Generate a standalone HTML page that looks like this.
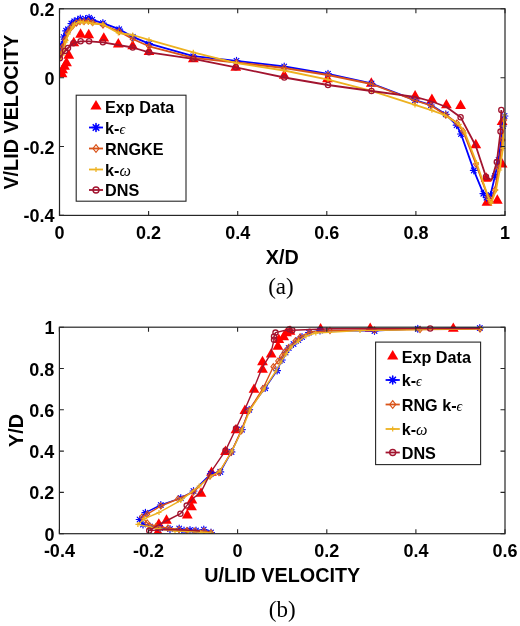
<!DOCTYPE html><html><head><meta charset="utf-8"><style>html,body{margin:0;padding:0;background:#fff;}svg{display:block;}.t{font-family:"Liberation Sans",Arial,sans-serif;font-weight:bold;fill:#000;}.c{font-family:"Liberation Serif","Times New Roman",serif;fill:#000;}</style></head><body>
<svg width="520" height="626" viewBox="0 0 520 626">
<rect width="520" height="626" fill="#fff"/>
<clipPath id="c8"><rect x="59.5" y="2.8000000000000007" width="451.5" height="212.6"/></clipPath>
<g clip-path="url(#c8)">
<path d="M62,67.8 L67.4,77.2 L56.6,77.2 Z" fill="#ff0000"/>
<path d="M62.5,63.8 L67.9,73.2 L57.1,73.2 Z" fill="#ff0000"/>
<path d="M64.5,60.3 L69.9,69.7 L59.1,69.7 Z" fill="#ff0000"/>
<path d="M66.5,56.8 L71.9,66.2 L61.1,66.2 Z" fill="#ff0000"/>
<path d="M68.8,49.3 L74.2,58.7 L63.4,58.7 Z" fill="#ff0000"/>
<path d="M73.8,36.8 L79.2,46.2 L68.4,46.2 Z" fill="#ff0000"/>
<path d="M80.6,28.3 L86,37.7 L75.2,37.7 Z" fill="#ff0000"/>
<path d="M88.7,28.8 L94.1,38.2 L83.3,38.2 Z" fill="#ff0000"/>
<path d="M103.8,32.2 L109.2,41.6 L98.4,41.6 Z" fill="#ff0000"/>
<path d="M118.3,38 L123.7,47.4 L112.9,47.4 Z" fill="#ff0000"/>
<path d="M132.7,39.9 L138.1,49.3 L127.3,49.3 Z" fill="#ff0000"/>
<path d="M149,45.7 L154.4,55.1 L143.6,55.1 Z" fill="#ff0000"/>
<path d="M193.3,52.8 L198.7,62.2 L187.9,62.2 Z" fill="#ff0000"/>
<path d="M235.8,61.3 L241.2,70.7 L230.4,70.7 Z" fill="#ff0000"/>
<path d="M284.2,69.3 L289.6,78.7 L278.8,78.7 Z" fill="#ff0000"/>
<path d="M327.5,72.8 L332.9,82.2 L322.1,82.2 Z" fill="#ff0000"/>
<path d="M371.3,77.3 L376.7,86.7 L365.9,86.7 Z" fill="#ff0000"/>
<path d="M415.1,90.1 L420.5,99.5 L409.7,99.5 Z" fill="#ff0000"/>
<path d="M431.9,93.5 L437.3,102.9 L426.5,102.9 Z" fill="#ff0000"/>
<path d="M446.4,98.9 L451.8,108.3 L441,108.3 Z" fill="#ff0000"/>
<path d="M460.6,99.5 L466,108.9 L455.2,108.9 Z" fill="#ff0000"/>
<path d="M475.8,138.8 L481.2,148.2 L470.4,148.2 Z" fill="#ff0000"/>
<path d="M486.2,172.3 L491.6,181.7 L480.8,181.7 Z" fill="#ff0000"/>
<path d="M487,196.3 L492.4,205.7 L481.6,205.7 Z" fill="#ff0000"/>
<path d="M497.3,194.3 L502.7,203.7 L491.9,203.7 Z" fill="#ff0000"/>
<path d="M502.1,115.7 L507.5,125.1 L496.7,125.1 Z" fill="#ff0000"/>
<path d="M502.1,158 L507.5,167.4 L496.7,167.4 Z" fill="#ff0000"/>
<polyline points="58.9,52.8 61.3,45 63.7,37 66.1,30.8 68,29.4 71.4,23.6 74.3,21.2 77.6,20.3 80.3,18.6 85.6,19 89.1,17.8 92.2,19.8 102.9,23.1 119.2,29.2 132.7,36.9 149,43.7 193.3,56.2 236.5,60.8 284.2,66.5 328,73.8 371.5,83.5 415,100.2 431,105 445.8,114.3 456.6,125.2 461,134 473.8,170.4 483.4,193.6 486.6,197.6 490.5,195 495,176 498.6,160 502.9,126 504.5,116" fill="none" stroke="#0000ff" stroke-width="1.8" stroke-linejoin="round"/>
<path d="M55.5,52.8 H62.3 M58.9,49.4 V56.2 M56.5,50.4 L61.3,55.2 M56.5,55.2 L61.3,50.4" stroke="#0000ff" stroke-width="1.2" stroke-linecap="round"/>
<path d="M57.9,45 H64.7 M61.3,41.6 V48.4 M58.9,42.6 L63.7,47.4 M58.9,47.4 L63.7,42.6" stroke="#0000ff" stroke-width="1.2" stroke-linecap="round"/>
<path d="M60.3,37 H67.1 M63.7,33.6 V40.4 M61.3,34.6 L66.1,39.4 M61.3,39.4 L66.1,34.6" stroke="#0000ff" stroke-width="1.2" stroke-linecap="round"/>
<path d="M62.7,30.8 H69.5 M66.1,27.4 V34.2 M63.7,28.4 L68.5,33.2 M63.7,33.2 L68.5,28.4" stroke="#0000ff" stroke-width="1.2" stroke-linecap="round"/>
<path d="M64.6,29.4 H71.4 M68,26 V32.8 M65.6,27 L70.4,31.8 M65.6,31.8 L70.4,27" stroke="#0000ff" stroke-width="1.2" stroke-linecap="round"/>
<path d="M68,23.6 H74.8 M71.4,20.2 V27 M69,21.2 L73.8,26 M69,26 L73.8,21.2" stroke="#0000ff" stroke-width="1.2" stroke-linecap="round"/>
<path d="M70.9,21.2 H77.7 M74.3,17.8 V24.6 M71.9,18.8 L76.7,23.6 M71.9,23.6 L76.7,18.8" stroke="#0000ff" stroke-width="1.2" stroke-linecap="round"/>
<path d="M74.2,20.3 H81 M77.6,16.9 V23.7 M75.2,17.9 L80,22.7 M75.2,22.7 L80,17.9" stroke="#0000ff" stroke-width="1.2" stroke-linecap="round"/>
<path d="M76.9,18.6 H83.7 M80.3,15.2 V22 M77.9,16.2 L82.7,21 M77.9,21 L82.7,16.2" stroke="#0000ff" stroke-width="1.2" stroke-linecap="round"/>
<path d="M82.2,19 H89 M85.6,15.6 V22.4 M83.2,16.6 L88,21.4 M83.2,21.4 L88,16.6" stroke="#0000ff" stroke-width="1.2" stroke-linecap="round"/>
<path d="M85.7,17.8 H92.5 M89.1,14.4 V21.2 M86.7,15.4 L91.5,20.2 M86.7,20.2 L91.5,15.4" stroke="#0000ff" stroke-width="1.2" stroke-linecap="round"/>
<path d="M88.8,19.8 H95.6 M92.2,16.4 V23.2 M89.8,17.4 L94.6,22.2 M89.8,22.2 L94.6,17.4" stroke="#0000ff" stroke-width="1.2" stroke-linecap="round"/>
<path d="M99.5,23.1 H106.3 M102.9,19.7 V26.5 M100.5,20.7 L105.3,25.5 M100.5,25.5 L105.3,20.7" stroke="#0000ff" stroke-width="1.2" stroke-linecap="round"/>
<path d="M115.8,29.2 H122.6 M119.2,25.8 V32.6 M116.8,26.8 L121.6,31.6 M116.8,31.6 L121.6,26.8" stroke="#0000ff" stroke-width="1.2" stroke-linecap="round"/>
<path d="M129.3,36.9 H136.1 M132.7,33.5 V40.3 M130.3,34.5 L135.1,39.3 M130.3,39.3 L135.1,34.5" stroke="#0000ff" stroke-width="1.2" stroke-linecap="round"/>
<path d="M145.6,43.7 H152.4 M149,40.3 V47.1 M146.6,41.3 L151.4,46.1 M146.6,46.1 L151.4,41.3" stroke="#0000ff" stroke-width="1.2" stroke-linecap="round"/>
<path d="M189.9,56.2 H196.7 M193.3,52.8 V59.6 M190.9,53.8 L195.7,58.6 M190.9,58.6 L195.7,53.8" stroke="#0000ff" stroke-width="1.2" stroke-linecap="round"/>
<path d="M233.1,60.8 H239.9 M236.5,57.4 V64.2 M234.1,58.4 L238.9,63.2 M234.1,63.2 L238.9,58.4" stroke="#0000ff" stroke-width="1.2" stroke-linecap="round"/>
<path d="M280.8,66.5 H287.6 M284.2,63.1 V69.9 M281.8,64.1 L286.6,68.9 M281.8,68.9 L286.6,64.1" stroke="#0000ff" stroke-width="1.2" stroke-linecap="round"/>
<path d="M324.6,73.8 H331.4 M328,70.4 V77.2 M325.6,71.4 L330.4,76.2 M325.6,76.2 L330.4,71.4" stroke="#0000ff" stroke-width="1.2" stroke-linecap="round"/>
<path d="M368.1,83.5 H374.9 M371.5,80.1 V86.9 M369.1,81.1 L373.9,85.9 M369.1,85.9 L373.9,81.1" stroke="#0000ff" stroke-width="1.2" stroke-linecap="round"/>
<path d="M411.6,100.2 H418.4 M415,96.8 V103.6 M412.6,97.8 L417.4,102.6 M412.6,102.6 L417.4,97.8" stroke="#0000ff" stroke-width="1.2" stroke-linecap="round"/>
<path d="M427.6,105 H434.4 M431,101.6 V108.4 M428.6,102.6 L433.4,107.4 M428.6,107.4 L433.4,102.6" stroke="#0000ff" stroke-width="1.2" stroke-linecap="round"/>
<path d="M442.4,114.3 H449.2 M445.8,110.9 V117.7 M443.4,111.9 L448.2,116.7 M443.4,116.7 L448.2,111.9" stroke="#0000ff" stroke-width="1.2" stroke-linecap="round"/>
<path d="M453.2,125.2 H460 M456.6,121.8 V128.6 M454.2,122.8 L459,127.6 M454.2,127.6 L459,122.8" stroke="#0000ff" stroke-width="1.2" stroke-linecap="round"/>
<path d="M457.6,134 H464.4 M461,130.6 V137.4 M458.6,131.6 L463.4,136.4 M458.6,136.4 L463.4,131.6" stroke="#0000ff" stroke-width="1.2" stroke-linecap="round"/>
<path d="M470.4,170.4 H477.2 M473.8,167 V173.8 M471.4,168 L476.2,172.8 M471.4,172.8 L476.2,168" stroke="#0000ff" stroke-width="1.2" stroke-linecap="round"/>
<path d="M480,193.6 H486.8 M483.4,190.2 V197 M481,191.2 L485.8,196 M481,196 L485.8,191.2" stroke="#0000ff" stroke-width="1.2" stroke-linecap="round"/>
<path d="M483.2,197.6 H490 M486.6,194.2 V201 M484.2,195.2 L489,200 M484.2,200 L489,195.2" stroke="#0000ff" stroke-width="1.2" stroke-linecap="round"/>
<path d="M487.1,195 H493.9 M490.5,191.6 V198.4 M488.1,192.6 L492.9,197.4 M488.1,197.4 L492.9,192.6" stroke="#0000ff" stroke-width="1.2" stroke-linecap="round"/>
<path d="M491.6,176 H498.4 M495,172.6 V179.4 M492.6,173.6 L497.4,178.4 M492.6,178.4 L497.4,173.6" stroke="#0000ff" stroke-width="1.2" stroke-linecap="round"/>
<path d="M495.2,160 H502 M498.6,156.6 V163.4 M496.2,157.6 L501,162.4 M496.2,162.4 L501,157.6" stroke="#0000ff" stroke-width="1.2" stroke-linecap="round"/>
<path d="M499.5,126 H506.3 M502.9,122.6 V129.4 M500.5,123.6 L505.3,128.4 M500.5,128.4 L505.3,123.6" stroke="#0000ff" stroke-width="1.2" stroke-linecap="round"/>
<path d="M501.1,116 H507.9 M504.5,112.6 V119.4 M502.1,113.6 L506.9,118.4 M502.1,118.4 L506.9,113.6" stroke="#0000ff" stroke-width="1.2" stroke-linecap="round"/>
<polyline points="60,55 62.5,47 65,39.5 67.5,33 70,29 73,25.5 76.5,23 80,21.5 84,21.5 88.5,21 92.5,22.5 103,25 119.2,31.5 132.7,39 149,46.3 193.3,57.8 236.5,62.5 284.2,68 328,75 371.5,84 415,100.5 431,105.5 445.8,115 457,123 463,131 476,164 488,197 490.6,202 495,190 498.6,168 502.5,140 504.2,120" fill="none" stroke="#d95319" stroke-width="1.8" stroke-linejoin="round"/>
<path d="M60,52 L62.4,55 L60,58 L57.6,55 Z" fill="none" stroke="#d95319" stroke-width="1.1"/>
<path d="M62.5,44 L64.9,47 L62.5,50 L60.1,47 Z" fill="none" stroke="#d95319" stroke-width="1.1"/>
<path d="M65,36.5 L67.4,39.5 L65,42.5 L62.6,39.5 Z" fill="none" stroke="#d95319" stroke-width="1.1"/>
<path d="M67.5,30 L69.9,33 L67.5,36 L65.1,33 Z" fill="none" stroke="#d95319" stroke-width="1.1"/>
<path d="M70,26 L72.4,29 L70,32 L67.6,29 Z" fill="none" stroke="#d95319" stroke-width="1.1"/>
<path d="M73,22.5 L75.4,25.5 L73,28.5 L70.6,25.5 Z" fill="none" stroke="#d95319" stroke-width="1.1"/>
<path d="M76.5,20 L78.9,23 L76.5,26 L74.1,23 Z" fill="none" stroke="#d95319" stroke-width="1.1"/>
<path d="M80,18.5 L82.4,21.5 L80,24.5 L77.6,21.5 Z" fill="none" stroke="#d95319" stroke-width="1.1"/>
<path d="M84,18.5 L86.4,21.5 L84,24.5 L81.6,21.5 Z" fill="none" stroke="#d95319" stroke-width="1.1"/>
<path d="M88.5,18 L90.9,21 L88.5,24 L86.1,21 Z" fill="none" stroke="#d95319" stroke-width="1.1"/>
<path d="M92.5,19.5 L94.9,22.5 L92.5,25.5 L90.1,22.5 Z" fill="none" stroke="#d95319" stroke-width="1.1"/>
<path d="M103,22 L105.4,25 L103,28 L100.6,25 Z" fill="none" stroke="#d95319" stroke-width="1.1"/>
<path d="M119.2,28.5 L121.6,31.5 L119.2,34.5 L116.8,31.5 Z" fill="none" stroke="#d95319" stroke-width="1.1"/>
<path d="M132.7,36 L135.1,39 L132.7,42 L130.3,39 Z" fill="none" stroke="#d95319" stroke-width="1.1"/>
<path d="M149,43.3 L151.4,46.3 L149,49.3 L146.6,46.3 Z" fill="none" stroke="#d95319" stroke-width="1.1"/>
<path d="M193.3,54.8 L195.7,57.8 L193.3,60.8 L190.9,57.8 Z" fill="none" stroke="#d95319" stroke-width="1.1"/>
<path d="M236.5,59.5 L238.9,62.5 L236.5,65.5 L234.1,62.5 Z" fill="none" stroke="#d95319" stroke-width="1.1"/>
<path d="M284.2,65 L286.6,68 L284.2,71 L281.8,68 Z" fill="none" stroke="#d95319" stroke-width="1.1"/>
<path d="M328,72 L330.4,75 L328,78 L325.6,75 Z" fill="none" stroke="#d95319" stroke-width="1.1"/>
<path d="M371.5,81 L373.9,84 L371.5,87 L369.1,84 Z" fill="none" stroke="#d95319" stroke-width="1.1"/>
<path d="M415,97.5 L417.4,100.5 L415,103.5 L412.6,100.5 Z" fill="none" stroke="#d95319" stroke-width="1.1"/>
<path d="M431,102.5 L433.4,105.5 L431,108.5 L428.6,105.5 Z" fill="none" stroke="#d95319" stroke-width="1.1"/>
<path d="M445.8,112 L448.2,115 L445.8,118 L443.4,115 Z" fill="none" stroke="#d95319" stroke-width="1.1"/>
<path d="M457,120 L459.4,123 L457,126 L454.6,123 Z" fill="none" stroke="#d95319" stroke-width="1.1"/>
<path d="M463,128 L465.4,131 L463,134 L460.6,131 Z" fill="none" stroke="#d95319" stroke-width="1.1"/>
<path d="M476,161 L478.4,164 L476,167 L473.6,164 Z" fill="none" stroke="#d95319" stroke-width="1.1"/>
<path d="M488,194 L490.4,197 L488,200 L485.6,197 Z" fill="none" stroke="#d95319" stroke-width="1.1"/>
<path d="M490.6,199 L493,202 L490.6,205 L488.2,202 Z" fill="none" stroke="#d95319" stroke-width="1.1"/>
<path d="M495,187 L497.4,190 L495,193 L492.6,190 Z" fill="none" stroke="#d95319" stroke-width="1.1"/>
<path d="M498.6,165 L501,168 L498.6,171 L496.2,168 Z" fill="none" stroke="#d95319" stroke-width="1.1"/>
<path d="M502.5,137 L504.9,140 L502.5,143 L500.1,140 Z" fill="none" stroke="#d95319" stroke-width="1.1"/>
<path d="M504.2,117 L506.6,120 L504.2,123 L501.8,120 Z" fill="none" stroke="#d95319" stroke-width="1.1"/>
<polyline points="60.5,58 62.2,55.2 63.2,52 65.6,42 66.1,40.3 68.3,34 72.5,27 74.5,24 80.2,21.7 83.3,22.5 88.3,22.5 92.9,23.6 102.9,24.4 118.3,33 132.7,35 149,39.8 193.3,52.3 236.5,63.1 284.2,70.5 328,79.6 371.5,90.9 415,104.9 431.9,110.3 444.4,115 459.2,124.4 465,133 476.5,162.7 489,199.5 491.2,203.2 496,190 499.7,170 502.9,148.3 503.7,126 504.5,115" fill="none" stroke="#edb120" stroke-width="1.8" stroke-linejoin="round"/>
<path d="M58,58 H63 M60.5,55.5 V60.5" stroke="#edb120" stroke-width="1.2"/>
<path d="M59.7,55.2 H64.7 M62.2,52.7 V57.7" stroke="#edb120" stroke-width="1.2"/>
<path d="M60.7,52 H65.7 M63.2,49.5 V54.5" stroke="#edb120" stroke-width="1.2"/>
<path d="M63.1,42 H68.1 M65.6,39.5 V44.5" stroke="#edb120" stroke-width="1.2"/>
<path d="M63.6,40.3 H68.6 M66.1,37.8 V42.8" stroke="#edb120" stroke-width="1.2"/>
<path d="M65.8,34 H70.8 M68.3,31.5 V36.5" stroke="#edb120" stroke-width="1.2"/>
<path d="M70,27 H75 M72.5,24.5 V29.5" stroke="#edb120" stroke-width="1.2"/>
<path d="M72,24 H77 M74.5,21.5 V26.5" stroke="#edb120" stroke-width="1.2"/>
<path d="M77.7,21.7 H82.7 M80.2,19.2 V24.2" stroke="#edb120" stroke-width="1.2"/>
<path d="M80.8,22.5 H85.8 M83.3,20 V25" stroke="#edb120" stroke-width="1.2"/>
<path d="M85.8,22.5 H90.8 M88.3,20 V25" stroke="#edb120" stroke-width="1.2"/>
<path d="M90.4,23.6 H95.4 M92.9,21.1 V26.1" stroke="#edb120" stroke-width="1.2"/>
<path d="M100.4,24.4 H105.4 M102.9,21.9 V26.9" stroke="#edb120" stroke-width="1.2"/>
<path d="M115.8,33 H120.8 M118.3,30.5 V35.5" stroke="#edb120" stroke-width="1.2"/>
<path d="M130.2,35 H135.2 M132.7,32.5 V37.5" stroke="#edb120" stroke-width="1.2"/>
<path d="M146.5,39.8 H151.5 M149,37.3 V42.3" stroke="#edb120" stroke-width="1.2"/>
<path d="M190.8,52.3 H195.8 M193.3,49.8 V54.8" stroke="#edb120" stroke-width="1.2"/>
<path d="M234,63.1 H239 M236.5,60.6 V65.6" stroke="#edb120" stroke-width="1.2"/>
<path d="M281.7,70.5 H286.7 M284.2,68 V73" stroke="#edb120" stroke-width="1.2"/>
<path d="M325.5,79.6 H330.5 M328,77.1 V82.1" stroke="#edb120" stroke-width="1.2"/>
<path d="M369,90.9 H374 M371.5,88.4 V93.4" stroke="#edb120" stroke-width="1.2"/>
<path d="M412.5,104.9 H417.5 M415,102.4 V107.4" stroke="#edb120" stroke-width="1.2"/>
<path d="M429.4,110.3 H434.4 M431.9,107.8 V112.8" stroke="#edb120" stroke-width="1.2"/>
<path d="M441.9,115 H446.9 M444.4,112.5 V117.5" stroke="#edb120" stroke-width="1.2"/>
<path d="M456.7,124.4 H461.7 M459.2,121.9 V126.9" stroke="#edb120" stroke-width="1.2"/>
<path d="M462.5,133 H467.5 M465,130.5 V135.5" stroke="#edb120" stroke-width="1.2"/>
<path d="M474,162.7 H479 M476.5,160.2 V165.2" stroke="#edb120" stroke-width="1.2"/>
<path d="M486.5,199.5 H491.5 M489,197 V202" stroke="#edb120" stroke-width="1.2"/>
<path d="M488.7,203.2 H493.7 M491.2,200.7 V205.7" stroke="#edb120" stroke-width="1.2"/>
<path d="M493.5,190 H498.5 M496,187.5 V192.5" stroke="#edb120" stroke-width="1.2"/>
<path d="M497.2,170 H502.2 M499.7,167.5 V172.5" stroke="#edb120" stroke-width="1.2"/>
<path d="M500.4,148.3 H505.4 M502.9,145.8 V150.8" stroke="#edb120" stroke-width="1.2"/>
<path d="M501.2,126 H506.2 M503.7,123.5 V128.5" stroke="#edb120" stroke-width="1.2"/>
<path d="M502,115 H507 M504.5,112.5 V117.5" stroke="#edb120" stroke-width="1.2"/>
<polyline points="59.8,58.2 62,55 65,51 68,48 73.4,43.2 80.6,41.3 89.1,41.3 102.9,42.3 132.7,47.5 149,52.3 193.3,58.8 235.8,67.3 284.3,77.5 328,85 371.5,91 415,96.8 431.9,101.5 446.4,107 460.6,117.2 475.8,146 486,176.8 491.6,180 496.8,162 500.5,131.6 501.3,110" fill="none" stroke="#a2142f" stroke-width="1.8" stroke-linejoin="round"/>
<circle cx="59.8" cy="58.2" r="2.6" fill="none" stroke="#a2142f" stroke-width="1.3"/>
<circle cx="65" cy="51" r="2.6" fill="none" stroke="#a2142f" stroke-width="1.3"/>
<circle cx="68" cy="48" r="2.6" fill="none" stroke="#a2142f" stroke-width="1.3"/>
<circle cx="73.4" cy="43.2" r="2.6" fill="none" stroke="#a2142f" stroke-width="1.3"/>
<circle cx="80.6" cy="41.3" r="2.6" fill="none" stroke="#a2142f" stroke-width="1.3"/>
<circle cx="89.1" cy="41.3" r="2.6" fill="none" stroke="#a2142f" stroke-width="1.3"/>
<circle cx="102.9" cy="42.3" r="2.6" fill="none" stroke="#a2142f" stroke-width="1.3"/>
<circle cx="132.7" cy="47.5" r="2.6" fill="none" stroke="#a2142f" stroke-width="1.3"/>
<circle cx="149" cy="52.3" r="2.6" fill="none" stroke="#a2142f" stroke-width="1.3"/>
<circle cx="193.3" cy="58.8" r="2.6" fill="none" stroke="#a2142f" stroke-width="1.3"/>
<circle cx="235.8" cy="67.3" r="2.6" fill="none" stroke="#a2142f" stroke-width="1.3"/>
<circle cx="284.3" cy="77.5" r="2.6" fill="none" stroke="#a2142f" stroke-width="1.3"/>
<circle cx="328" cy="85" r="2.6" fill="none" stroke="#a2142f" stroke-width="1.3"/>
<circle cx="371.5" cy="91" r="2.6" fill="none" stroke="#a2142f" stroke-width="1.3"/>
<circle cx="460.6" cy="117.2" r="2.6" fill="none" stroke="#a2142f" stroke-width="1.3"/>
<circle cx="486" cy="176.8" r="2.6" fill="none" stroke="#a2142f" stroke-width="1.3"/>
<circle cx="496.8" cy="162" r="2.6" fill="none" stroke="#a2142f" stroke-width="1.3"/>
<circle cx="500.5" cy="131.6" r="2.6" fill="none" stroke="#a2142f" stroke-width="1.3"/>
<circle cx="501.3" cy="110" r="2.6" fill="none" stroke="#a2142f" stroke-width="1.3"/>
</g>
<rect x="59.5" y="8.8" width="445.5" height="206.6" fill="none" stroke="#262626" stroke-width="1.2"/>
<path d="M59.5,215.4 v-4.5 M59.5,8.8 v4.5" stroke="#262626" stroke-width="1.1"/>
<path d="M148.6,215.4 v-4.5 M148.6,8.8 v4.5" stroke="#262626" stroke-width="1.1"/>
<path d="M237.7,215.4 v-4.5 M237.7,8.8 v4.5" stroke="#262626" stroke-width="1.1"/>
<path d="M326.8,215.4 v-4.5 M326.8,8.8 v4.5" stroke="#262626" stroke-width="1.1"/>
<path d="M415.9,215.4 v-4.5 M415.9,8.8 v4.5" stroke="#262626" stroke-width="1.1"/>
<path d="M505,215.4 v-4.5 M505,8.8 v4.5" stroke="#262626" stroke-width="1.1"/>
<path d="M59.5,8.8 h4.5 M505,8.8 h-4.5" stroke="#262626" stroke-width="1.1"/>
<path d="M59.5,77.7 h4.5 M505,77.7 h-4.5" stroke="#262626" stroke-width="1.1"/>
<path d="M59.5,146.5 h4.5 M505,146.5 h-4.5" stroke="#262626" stroke-width="1.1"/>
<path d="M59.5,215.4 h4.5 M505,215.4 h-4.5" stroke="#262626" stroke-width="1.1"/>
<text class="t" x="59.5" y="238.8" font-size="18" text-anchor="middle">0</text>
<text class="t" x="148.6" y="238.8" font-size="18" text-anchor="middle">0.2</text>
<text class="t" x="237.7" y="238.8" font-size="18" text-anchor="middle">0.4</text>
<text class="t" x="326.8" y="238.8" font-size="18" text-anchor="middle">0.6</text>
<text class="t" x="415.9" y="238.8" font-size="18" text-anchor="middle">0.8</text>
<text class="t" x="505" y="238.8" font-size="18" text-anchor="middle">1</text>
<text class="t" x="54.5" y="15.8" font-size="18" text-anchor="end">0.2</text>
<text class="t" x="54.5" y="84.7" font-size="18" text-anchor="end">0</text>
<text class="t" x="54.5" y="153.5" font-size="18" text-anchor="end">-0.2</text>
<text class="t" x="54.5" y="222.4" font-size="18" text-anchor="end">-0.4</text>
<text class="t" x="282.2" y="263.5" font-size="19.8" text-anchor="middle">X/D</text>
<text class="t" transform="translate(17.5,112.1) rotate(-90)" x="0" y="0" font-size="19.8" text-anchor="middle">V/LID VELOCITY</text>
<rect x="76.2" y="95.2" width="109.8" height="106" fill="#fff" stroke="#262626" stroke-width="1.1"/><path d="M96,100 L101.6,109.6 L90.4,109.6 Z" fill="#ff0000"/><text class="t" x="105" y="112.7" font-size="16.2">Exp Data</text><polyline points="89,127.5 103,127.5" fill="none" stroke="#0000ff" stroke-width="1.8" stroke-linejoin="round"/><path d="M92,127.5 H100 M96,123.5 V131.5 M93.2,124.7 L98.8,130.3 M93.2,130.3 L98.8,124.7" stroke="#0000ff" stroke-width="1.6" stroke-linecap="round"/><text class="t" x="105" y="133.7" font-size="16.2">k-<tspan font-family="Liberation Serif,serif" font-weight="normal" font-style="italic" font-size="88%">&#1013;</tspan></text><polyline points="89,148.5 103,148.5" fill="none" stroke="#d95319" stroke-width="1.8" stroke-linejoin="round"/><path d="M96,144.7 L99,148.5 L96,152.3 L93,148.5 Z" fill="none" stroke="#d95319" stroke-width="1.2"/><text class="t" x="105" y="154.7" font-size="16.2">RNGKE</text><polyline points="89,169.5 103,169.5" fill="none" stroke="#edb120" stroke-width="1.8" stroke-linejoin="round"/><path d="M93.5,169.5 H98.5 M96,167 V172" stroke="#edb120" stroke-width="1.2"/><text class="t" x="105" y="175.7" font-size="16.2">k-<tspan font-family="Liberation Serif,serif" font-weight="normal" font-style="italic">&#969;</tspan></text><polyline points="89,190 103,190" fill="none" stroke="#a2142f" stroke-width="1.8" stroke-linejoin="round"/><circle cx="96" cy="190" r="3" fill="none" stroke="#a2142f" stroke-width="1.4"/><text class="t" x="105" y="196.2" font-size="16.2">DNS</text>
<text class="c" x="280.9" y="293.8" font-size="23" text-anchor="middle">(a)</text>
<clipPath id="c327"><rect x="59.4" y="321.2" width="451.6" height="212.50000000000006"/></clipPath>
<g clip-path="url(#c327)">
<path d="M157.9,525.9 L163.3,535.3 L152.5,535.3 Z" fill="#ff0000"/>
<path d="M158.8,518.2 L164.2,527.6 L153.4,527.6 Z" fill="#ff0000"/>
<path d="M166.5,514.3 L171.9,523.7 L161.1,523.7 Z" fill="#ff0000"/>
<path d="M187.3,509 L192.7,518.4 L181.9,518.4 Z" fill="#ff0000"/>
<path d="M191.5,500.9 L196.9,510.3 L186.1,510.3 Z" fill="#ff0000"/>
<path d="M191.9,494.1 L197.3,503.5 L186.5,503.5 Z" fill="#ff0000"/>
<path d="M201,487.3 L206.4,496.7 L195.6,496.7 Z" fill="#ff0000"/>
<path d="M211.5,466.4 L216.9,475.8 L206.1,475.8 Z" fill="#ff0000"/>
<path d="M225.5,445.6 L230.9,455 L220.1,455 Z" fill="#ff0000"/>
<path d="M236,423.8 L241.4,433.2 L230.6,433.2 Z" fill="#ff0000"/>
<path d="M244.9,404.5 L250.3,413.9 L239.5,413.9 Z" fill="#ff0000"/>
<path d="M254,383.4 L259.4,392.8 L248.6,392.8 Z" fill="#ff0000"/>
<path d="M262.5,363.3 L267.9,372.7 L257.1,372.7 Z" fill="#ff0000"/>
<path d="M262.5,355.8 L267.9,365.2 L257.1,365.2 Z" fill="#ff0000"/>
<path d="M271.2,348.1 L276.6,357.5 L265.8,357.5 Z" fill="#ff0000"/>
<path d="M277.9,340.3 L283.3,349.7 L272.5,349.7 Z" fill="#ff0000"/>
<path d="M278.8,333.6 L284.2,343 L273.4,343 Z" fill="#ff0000"/>
<path d="M283.7,330.8 L289.1,340.2 L278.3,340.2 Z" fill="#ff0000"/>
<path d="M286.5,326.9 L291.9,336.3 L281.1,336.3 Z" fill="#ff0000"/>
<path d="M290,325.3 L295.4,334.7 L284.6,334.7 Z" fill="#ff0000"/>
<path d="M320.6,323 L326,332.4 L315.2,332.4 Z" fill="#ff0000"/>
<path d="M370.2,322.4 L375.6,331.8 L364.8,331.8 Z" fill="#ff0000"/>
<path d="M453.3,322.4 L458.7,331.8 L447.9,331.8 Z" fill="#ff0000"/>
<polyline points="211,532.5 203.8,529.5 196,530.5 190,530 184,530.5 179.2,528.5 170,529 160,528 150,526.5 143,524.5 139.6,519.5 145.4,512.7 160.8,505 180.8,498.1 193.5,491 210.8,473.8 220.3,471.9 231.5,451.9 241.9,429.6 249.2,409.7 265.1,388.1 277.1,370.6 281.9,360 285.5,352.5 288.7,348 293.5,344 298.3,340 302,336.9 309,332.5 320,330.5 374.5,330.9 417.8,328.8 479.8,328" fill="none" stroke="#0000ff" stroke-width="1.4" stroke-linejoin="round"/>
<path d="M207.6,532.5 H214.4 M211,529.1 V535.9 M208.6,530.1 L213.4,534.9 M208.6,534.9 L213.4,530.1" stroke="#0000ff" stroke-width="1.2" stroke-linecap="round"/>
<path d="M200.4,529.5 H207.2 M203.8,526.1 V532.9 M201.4,527.1 L206.2,531.9 M201.4,531.9 L206.2,527.1" stroke="#0000ff" stroke-width="1.2" stroke-linecap="round"/>
<path d="M192.6,530.5 H199.4 M196,527.1 V533.9 M193.6,528.1 L198.4,532.9 M193.6,532.9 L198.4,528.1" stroke="#0000ff" stroke-width="1.2" stroke-linecap="round"/>
<path d="M186.6,530 H193.4 M190,526.6 V533.4 M187.6,527.6 L192.4,532.4 M187.6,532.4 L192.4,527.6" stroke="#0000ff" stroke-width="1.2" stroke-linecap="round"/>
<path d="M180.6,530.5 H187.4 M184,527.1 V533.9 M181.6,528.1 L186.4,532.9 M181.6,532.9 L186.4,528.1" stroke="#0000ff" stroke-width="1.2" stroke-linecap="round"/>
<path d="M175.8,528.5 H182.6 M179.2,525.1 V531.9 M176.8,526.1 L181.6,530.9 M176.8,530.9 L181.6,526.1" stroke="#0000ff" stroke-width="1.2" stroke-linecap="round"/>
<path d="M166.6,529 H173.4 M170,525.6 V532.4 M167.6,526.6 L172.4,531.4 M167.6,531.4 L172.4,526.6" stroke="#0000ff" stroke-width="1.2" stroke-linecap="round"/>
<path d="M156.6,528 H163.4 M160,524.6 V531.4 M157.6,525.6 L162.4,530.4 M157.6,530.4 L162.4,525.6" stroke="#0000ff" stroke-width="1.2" stroke-linecap="round"/>
<path d="M146.6,526.5 H153.4 M150,523.1 V529.9 M147.6,524.1 L152.4,528.9 M147.6,528.9 L152.4,524.1" stroke="#0000ff" stroke-width="1.2" stroke-linecap="round"/>
<path d="M139.6,524.5 H146.4 M143,521.1 V527.9 M140.6,522.1 L145.4,526.9 M140.6,526.9 L145.4,522.1" stroke="#0000ff" stroke-width="1.2" stroke-linecap="round"/>
<path d="M136.2,519.5 H143 M139.6,516.1 V522.9 M137.2,517.1 L142,521.9 M137.2,521.9 L142,517.1" stroke="#0000ff" stroke-width="1.2" stroke-linecap="round"/>
<path d="M142,512.7 H148.8 M145.4,509.3 V516.1 M143,510.3 L147.8,515.1 M143,515.1 L147.8,510.3" stroke="#0000ff" stroke-width="1.2" stroke-linecap="round"/>
<path d="M157.4,505 H164.2 M160.8,501.6 V508.4 M158.4,502.6 L163.2,507.4 M158.4,507.4 L163.2,502.6" stroke="#0000ff" stroke-width="1.2" stroke-linecap="round"/>
<path d="M177.4,498.1 H184.2 M180.8,494.7 V501.5 M178.4,495.7 L183.2,500.5 M178.4,500.5 L183.2,495.7" stroke="#0000ff" stroke-width="1.2" stroke-linecap="round"/>
<path d="M190.1,491 H196.9 M193.5,487.6 V494.4 M191.1,488.6 L195.9,493.4 M191.1,493.4 L195.9,488.6" stroke="#0000ff" stroke-width="1.2" stroke-linecap="round"/>
<path d="M207.4,473.8 H214.2 M210.8,470.4 V477.2 M208.4,471.4 L213.2,476.2 M208.4,476.2 L213.2,471.4" stroke="#0000ff" stroke-width="1.2" stroke-linecap="round"/>
<path d="M216.9,471.9 H223.7 M220.3,468.5 V475.3 M217.9,469.5 L222.7,474.3 M217.9,474.3 L222.7,469.5" stroke="#0000ff" stroke-width="1.2" stroke-linecap="round"/>
<path d="M228.1,451.9 H234.9 M231.5,448.5 V455.3 M229.1,449.5 L233.9,454.3 M229.1,454.3 L233.9,449.5" stroke="#0000ff" stroke-width="1.2" stroke-linecap="round"/>
<path d="M238.5,429.6 H245.3 M241.9,426.2 V433 M239.5,427.2 L244.3,432 M239.5,432 L244.3,427.2" stroke="#0000ff" stroke-width="1.2" stroke-linecap="round"/>
<path d="M245.8,409.7 H252.6 M249.2,406.3 V413.1 M246.8,407.3 L251.6,412.1 M246.8,412.1 L251.6,407.3" stroke="#0000ff" stroke-width="1.2" stroke-linecap="round"/>
<path d="M261.7,388.1 H268.5 M265.1,384.7 V391.5 M262.7,385.7 L267.5,390.5 M262.7,390.5 L267.5,385.7" stroke="#0000ff" stroke-width="1.2" stroke-linecap="round"/>
<path d="M273.7,370.6 H280.5 M277.1,367.2 V374 M274.7,368.2 L279.5,373 M274.7,373 L279.5,368.2" stroke="#0000ff" stroke-width="1.2" stroke-linecap="round"/>
<path d="M278.5,360 H285.3 M281.9,356.6 V363.4 M279.5,357.6 L284.3,362.4 M279.5,362.4 L284.3,357.6" stroke="#0000ff" stroke-width="1.2" stroke-linecap="round"/>
<path d="M282.1,352.5 H288.9 M285.5,349.1 V355.9 M283.1,350.1 L287.9,354.9 M283.1,354.9 L287.9,350.1" stroke="#0000ff" stroke-width="1.2" stroke-linecap="round"/>
<path d="M285.3,348 H292.1 M288.7,344.6 V351.4 M286.3,345.6 L291.1,350.4 M286.3,350.4 L291.1,345.6" stroke="#0000ff" stroke-width="1.2" stroke-linecap="round"/>
<path d="M290.1,344 H296.9 M293.5,340.6 V347.4 M291.1,341.6 L295.9,346.4 M291.1,346.4 L295.9,341.6" stroke="#0000ff" stroke-width="1.2" stroke-linecap="round"/>
<path d="M294.9,340 H301.7 M298.3,336.6 V343.4 M295.9,337.6 L300.7,342.4 M295.9,342.4 L300.7,337.6" stroke="#0000ff" stroke-width="1.2" stroke-linecap="round"/>
<path d="M298.6,336.9 H305.4 M302,333.5 V340.3 M299.6,334.5 L304.4,339.3 M299.6,339.3 L304.4,334.5" stroke="#0000ff" stroke-width="1.2" stroke-linecap="round"/>
<path d="M305.6,332.5 H312.4 M309,329.1 V335.9 M306.6,330.1 L311.4,334.9 M306.6,334.9 L311.4,330.1" stroke="#0000ff" stroke-width="1.2" stroke-linecap="round"/>
<path d="M316.6,330.5 H323.4 M320,327.1 V333.9 M317.6,328.1 L322.4,332.9 M317.6,332.9 L322.4,328.1" stroke="#0000ff" stroke-width="1.2" stroke-linecap="round"/>
<path d="M371.1,330.9 H377.9 M374.5,327.5 V334.3 M372.1,328.5 L376.9,333.3 M372.1,333.3 L376.9,328.5" stroke="#0000ff" stroke-width="1.2" stroke-linecap="round"/>
<path d="M414.4,328.8 H421.2 M417.8,325.4 V332.2 M415.4,326.4 L420.2,331.2 M415.4,331.2 L420.2,326.4" stroke="#0000ff" stroke-width="1.2" stroke-linecap="round"/>
<path d="M476.4,328 H483.2 M479.8,324.6 V331.4 M477.4,325.6 L482.2,330.4 M477.4,330.4 L482.2,325.6" stroke="#0000ff" stroke-width="1.2" stroke-linecap="round"/>
<polyline points="211,532.8 204,531 195,531 187,530.5 179,529.5 168,528 156,526.5 147.3,523 142,517 147.3,514.2 160.8,506 178,499 193.5,492 210,476 219,472.5 231,452.5 241,431 249,410.5 263,388.5 273.3,366.7 278.1,361 281.9,356.2 284.8,351.8 288.7,347.5 295.4,340.8 300.2,336.9 310,332 330,330.5 374.5,330 420,329.5 480,329" fill="none" stroke="#d95319" stroke-width="1.4" stroke-linejoin="round"/>
<path d="M211,529.8 L213.4,532.8 L211,535.8 L208.6,532.8 Z" fill="none" stroke="#d95319" stroke-width="1.1"/>
<path d="M204,528 L206.4,531 L204,534 L201.6,531 Z" fill="none" stroke="#d95319" stroke-width="1.1"/>
<path d="M195,528 L197.4,531 L195,534 L192.6,531 Z" fill="none" stroke="#d95319" stroke-width="1.1"/>
<path d="M187,527.5 L189.4,530.5 L187,533.5 L184.6,530.5 Z" fill="none" stroke="#d95319" stroke-width="1.1"/>
<path d="M179,526.5 L181.4,529.5 L179,532.5 L176.6,529.5 Z" fill="none" stroke="#d95319" stroke-width="1.1"/>
<path d="M168,525 L170.4,528 L168,531 L165.6,528 Z" fill="none" stroke="#d95319" stroke-width="1.1"/>
<path d="M156,523.5 L158.4,526.5 L156,529.5 L153.6,526.5 Z" fill="none" stroke="#d95319" stroke-width="1.1"/>
<path d="M147.3,520 L149.7,523 L147.3,526 L144.9,523 Z" fill="none" stroke="#d95319" stroke-width="1.1"/>
<path d="M142,514 L144.4,517 L142,520 L139.6,517 Z" fill="none" stroke="#d95319" stroke-width="1.1"/>
<path d="M147.3,511.2 L149.7,514.2 L147.3,517.2 L144.9,514.2 Z" fill="none" stroke="#d95319" stroke-width="1.1"/>
<path d="M160.8,503 L163.2,506 L160.8,509 L158.4,506 Z" fill="none" stroke="#d95319" stroke-width="1.1"/>
<path d="M178,496 L180.4,499 L178,502 L175.6,499 Z" fill="none" stroke="#d95319" stroke-width="1.1"/>
<path d="M193.5,489 L195.9,492 L193.5,495 L191.1,492 Z" fill="none" stroke="#d95319" stroke-width="1.1"/>
<path d="M210,473 L212.4,476 L210,479 L207.6,476 Z" fill="none" stroke="#d95319" stroke-width="1.1"/>
<path d="M219,469.5 L221.4,472.5 L219,475.5 L216.6,472.5 Z" fill="none" stroke="#d95319" stroke-width="1.1"/>
<path d="M231,449.5 L233.4,452.5 L231,455.5 L228.6,452.5 Z" fill="none" stroke="#d95319" stroke-width="1.1"/>
<path d="M241,428 L243.4,431 L241,434 L238.6,431 Z" fill="none" stroke="#d95319" stroke-width="1.1"/>
<path d="M249,407.5 L251.4,410.5 L249,413.5 L246.6,410.5 Z" fill="none" stroke="#d95319" stroke-width="1.1"/>
<path d="M263,385.5 L265.4,388.5 L263,391.5 L260.6,388.5 Z" fill="none" stroke="#d95319" stroke-width="1.1"/>
<path d="M273.3,363.7 L275.7,366.7 L273.3,369.7 L270.9,366.7 Z" fill="none" stroke="#d95319" stroke-width="1.1"/>
<path d="M278.1,358 L280.5,361 L278.1,364 L275.7,361 Z" fill="none" stroke="#d95319" stroke-width="1.1"/>
<path d="M281.9,353.2 L284.3,356.2 L281.9,359.2 L279.5,356.2 Z" fill="none" stroke="#d95319" stroke-width="1.1"/>
<path d="M284.8,348.8 L287.2,351.8 L284.8,354.8 L282.4,351.8 Z" fill="none" stroke="#d95319" stroke-width="1.1"/>
<path d="M288.7,344.5 L291.1,347.5 L288.7,350.5 L286.3,347.5 Z" fill="none" stroke="#d95319" stroke-width="1.1"/>
<path d="M295.4,337.8 L297.8,340.8 L295.4,343.8 L293,340.8 Z" fill="none" stroke="#d95319" stroke-width="1.1"/>
<path d="M300.2,333.9 L302.6,336.9 L300.2,339.9 L297.8,336.9 Z" fill="none" stroke="#d95319" stroke-width="1.1"/>
<path d="M310,329 L312.4,332 L310,335 L307.6,332 Z" fill="none" stroke="#d95319" stroke-width="1.1"/>
<path d="M330,327.5 L332.4,330.5 L330,333.5 L327.6,330.5 Z" fill="none" stroke="#d95319" stroke-width="1.1"/>
<path d="M374.5,327 L376.9,330 L374.5,333 L372.1,330 Z" fill="none" stroke="#d95319" stroke-width="1.1"/>
<path d="M420,326.5 L422.4,329.5 L420,332.5 L417.6,329.5 Z" fill="none" stroke="#d95319" stroke-width="1.1"/>
<path d="M480,326 L482.4,329 L480,332 L477.6,329 Z" fill="none" stroke="#d95319" stroke-width="1.1"/>
<polyline points="211,533 200,532 188,531.5 175,531 160,529 150,527 137.9,524.4 144.6,518.7 159,512.5 180.8,500.4 199.2,486 210,477 220,471 232,451 242,430 250,410 264,389 276,371 281,362 286,354 291,347 298.5,341 306,336 315.8,333 360,330.6 420,329.5 480,328.5" fill="none" stroke="#edb120" stroke-width="1.4" stroke-linejoin="round"/>
<path d="M208.5,533 H213.5 M211,530.5 V535.5" stroke="#edb120" stroke-width="1.2"/>
<path d="M197.5,532 H202.5 M200,529.5 V534.5" stroke="#edb120" stroke-width="1.2"/>
<path d="M185.5,531.5 H190.5 M188,529 V534" stroke="#edb120" stroke-width="1.2"/>
<path d="M172.5,531 H177.5 M175,528.5 V533.5" stroke="#edb120" stroke-width="1.2"/>
<path d="M157.5,529 H162.5 M160,526.5 V531.5" stroke="#edb120" stroke-width="1.2"/>
<path d="M147.5,527 H152.5 M150,524.5 V529.5" stroke="#edb120" stroke-width="1.2"/>
<path d="M135.4,524.4 H140.4 M137.9,521.9 V526.9" stroke="#edb120" stroke-width="1.2"/>
<path d="M142.1,518.7 H147.1 M144.6,516.2 V521.2" stroke="#edb120" stroke-width="1.2"/>
<path d="M156.5,512.5 H161.5 M159,510 V515" stroke="#edb120" stroke-width="1.2"/>
<path d="M178.3,500.4 H183.3 M180.8,497.9 V502.9" stroke="#edb120" stroke-width="1.2"/>
<path d="M196.7,486 H201.7 M199.2,483.5 V488.5" stroke="#edb120" stroke-width="1.2"/>
<path d="M207.5,477 H212.5 M210,474.5 V479.5" stroke="#edb120" stroke-width="1.2"/>
<path d="M217.5,471 H222.5 M220,468.5 V473.5" stroke="#edb120" stroke-width="1.2"/>
<path d="M229.5,451 H234.5 M232,448.5 V453.5" stroke="#edb120" stroke-width="1.2"/>
<path d="M239.5,430 H244.5 M242,427.5 V432.5" stroke="#edb120" stroke-width="1.2"/>
<path d="M247.5,410 H252.5 M250,407.5 V412.5" stroke="#edb120" stroke-width="1.2"/>
<path d="M261.5,389 H266.5 M264,386.5 V391.5" stroke="#edb120" stroke-width="1.2"/>
<path d="M273.5,371 H278.5 M276,368.5 V373.5" stroke="#edb120" stroke-width="1.2"/>
<path d="M278.5,362 H283.5 M281,359.5 V364.5" stroke="#edb120" stroke-width="1.2"/>
<path d="M283.5,354 H288.5 M286,351.5 V356.5" stroke="#edb120" stroke-width="1.2"/>
<path d="M288.5,347 H293.5 M291,344.5 V349.5" stroke="#edb120" stroke-width="1.2"/>
<path d="M296,341 H301 M298.5,338.5 V343.5" stroke="#edb120" stroke-width="1.2"/>
<path d="M303.5,336 H308.5 M306,333.5 V338.5" stroke="#edb120" stroke-width="1.2"/>
<path d="M313.3,333 H318.3 M315.8,330.5 V335.5" stroke="#edb120" stroke-width="1.2"/>
<path d="M357.5,330.6 H362.5 M360,328.1 V333.1" stroke="#edb120" stroke-width="1.2"/>
<path d="M417.5,329.5 H422.5 M420,327 V332" stroke="#edb120" stroke-width="1.2"/>
<path d="M477.5,328.5 H482.5 M480,326 V331" stroke="#edb120" stroke-width="1.2"/>
<polyline points="200,531 185,530 165,529.5 149.2,530.6 160,524 170,519 180.4,513.7 186.7,505.6 193,498.5 201.1,491.9 211.5,471.1 225.5,450.6 236,428.5 244.9,409.2 254,388.1 262,368.1 270.7,353.8 274,339.8 274,336.4 275.5,332.6 289.4,329.2 292.3,330.2 330,328.7 430.2,328.5 480,328.3" fill="none" stroke="#a2142f" stroke-width="1.4" stroke-linejoin="round"/>
<circle cx="149.2" cy="530.6" r="2.6" fill="none" stroke="#a2142f" stroke-width="1.3"/>
<circle cx="180.4" cy="513.7" r="2.6" fill="none" stroke="#a2142f" stroke-width="1.3"/>
<circle cx="186.7" cy="505.6" r="2.6" fill="none" stroke="#a2142f" stroke-width="1.3"/>
<circle cx="225.5" cy="450.6" r="2.6" fill="none" stroke="#a2142f" stroke-width="1.3"/>
<circle cx="236" cy="428.5" r="2.6" fill="none" stroke="#a2142f" stroke-width="1.3"/>
<circle cx="274" cy="339.8" r="2.6" fill="none" stroke="#a2142f" stroke-width="1.3"/>
<circle cx="274" cy="336.4" r="2.6" fill="none" stroke="#a2142f" stroke-width="1.3"/>
<circle cx="275.5" cy="332.6" r="2.6" fill="none" stroke="#a2142f" stroke-width="1.3"/>
<circle cx="289.4" cy="329.2" r="2.6" fill="none" stroke="#a2142f" stroke-width="1.3"/>
<circle cx="292.3" cy="330.2" r="2.6" fill="none" stroke="#a2142f" stroke-width="1.3"/>
<circle cx="430.2" cy="328.5" r="2.6" fill="none" stroke="#a2142f" stroke-width="1.3"/>
</g>
<rect x="59.4" y="327.2" width="445.6" height="206.5" fill="none" stroke="#262626" stroke-width="1.2"/>
<path d="M59.4,533.7 v-4.5 M59.4,327.2 v4.5" stroke="#262626" stroke-width="1.1"/>
<path d="M148.5,533.7 v-4.5 M148.5,327.2 v4.5" stroke="#262626" stroke-width="1.1"/>
<path d="M237.6,533.7 v-4.5 M237.6,327.2 v4.5" stroke="#262626" stroke-width="1.1"/>
<path d="M326.8,533.7 v-4.5 M326.8,327.2 v4.5" stroke="#262626" stroke-width="1.1"/>
<path d="M415.9,533.7 v-4.5 M415.9,327.2 v4.5" stroke="#262626" stroke-width="1.1"/>
<path d="M505,533.7 v-4.5 M505,327.2 v4.5" stroke="#262626" stroke-width="1.1"/>
<path d="M59.4,533.7 h4.5 M505,533.7 h-4.5" stroke="#262626" stroke-width="1.1"/>
<path d="M59.4,492.4 h4.5 M505,492.4 h-4.5" stroke="#262626" stroke-width="1.1"/>
<path d="M59.4,451.1 h4.5 M505,451.1 h-4.5" stroke="#262626" stroke-width="1.1"/>
<path d="M59.4,409.8 h4.5 M505,409.8 h-4.5" stroke="#262626" stroke-width="1.1"/>
<path d="M59.4,368.5 h4.5 M505,368.5 h-4.5" stroke="#262626" stroke-width="1.1"/>
<path d="M59.4,327.2 h4.5 M505,327.2 h-4.5" stroke="#262626" stroke-width="1.1"/>
<text class="t" x="59.4" y="557.1" font-size="18" text-anchor="middle">-0.4</text>
<text class="t" x="148.5" y="557.1" font-size="18" text-anchor="middle">-0.2</text>
<text class="t" x="237.6" y="557.1" font-size="18" text-anchor="middle">0</text>
<text class="t" x="326.8" y="557.1" font-size="18" text-anchor="middle">0.2</text>
<text class="t" x="415.9" y="557.1" font-size="18" text-anchor="middle">0.4</text>
<text class="t" x="505" y="557.1" font-size="18" text-anchor="middle">0.6</text>
<text class="t" x="54.4" y="540.7" font-size="18" text-anchor="end">0</text>
<text class="t" x="54.4" y="499.4" font-size="18" text-anchor="end">0.2</text>
<text class="t" x="54.4" y="458.1" font-size="18" text-anchor="end">0.4</text>
<text class="t" x="54.4" y="416.8" font-size="18" text-anchor="end">0.6</text>
<text class="t" x="54.4" y="375.5" font-size="18" text-anchor="end">0.8</text>
<text class="t" x="54.4" y="334.2" font-size="18" text-anchor="end">1</text>
<text class="t" x="282.2" y="581.5" font-size="19.8" text-anchor="middle">U/LID VELOCITY</text>
<text class="t" transform="translate(23.3,430.5) rotate(-90)" x="0" y="0" font-size="19.8" text-anchor="middle">Y/D</text>
<rect x="375.6" y="342.1" width="105" height="122.5" fill="#fff" stroke="#262626" stroke-width="1.1"/><path d="M392.7,349.9 L398.3,359.5 L387.1,359.5 Z" fill="#ff0000"/><text class="t" x="401.7" y="362.6" font-size="16.2">Exp Data</text><polyline points="385.6,380 399.8,380" fill="none" stroke="#0000ff" stroke-width="1.8" stroke-linejoin="round"/><path d="M388.7,380 H396.7 M392.7,376 V384 M389.9,377.2 L395.5,382.8 M389.9,382.8 L395.5,377.2" stroke="#0000ff" stroke-width="1.6" stroke-linecap="round"/><text class="t" x="401.7" y="386.2" font-size="16.2">k-<tspan font-family="Liberation Serif,serif" font-weight="normal" font-style="italic" font-size="88%">&#1013;</tspan></text><polyline points="385.6,404.5 399.8,404.5" fill="none" stroke="#d95319" stroke-width="1.8" stroke-linejoin="round"/><path d="M392.7,400.7 L395.7,404.5 L392.7,408.3 L389.7,404.5 Z" fill="none" stroke="#d95319" stroke-width="1.2"/><text class="t" x="401.7" y="410.7" font-size="16.2">RNG k-<tspan font-family="Liberation Serif,serif" font-weight="normal" font-style="italic" font-size="88%">&#1013;</tspan></text><polyline points="385.6,429 399.8,429" fill="none" stroke="#edb120" stroke-width="1.8" stroke-linejoin="round"/><path d="M390.2,429 H395.2 M392.7,426.5 V431.5" stroke="#edb120" stroke-width="1.2"/><text class="t" x="401.7" y="435.2" font-size="16.2">k-<tspan font-family="Liberation Serif,serif" font-weight="normal" font-style="italic">&#969;</tspan></text><polyline points="385.6,452.5 399.8,452.5" fill="none" stroke="#a2142f" stroke-width="1.8" stroke-linejoin="round"/><circle cx="392.7" cy="452.5" r="3" fill="none" stroke="#a2142f" stroke-width="1.4"/><text class="t" x="401.7" y="458.7" font-size="16.2">DNS</text>
<text class="c" x="282.2" y="616.5" font-size="23" text-anchor="middle">(b)</text>
</svg></body></html>
